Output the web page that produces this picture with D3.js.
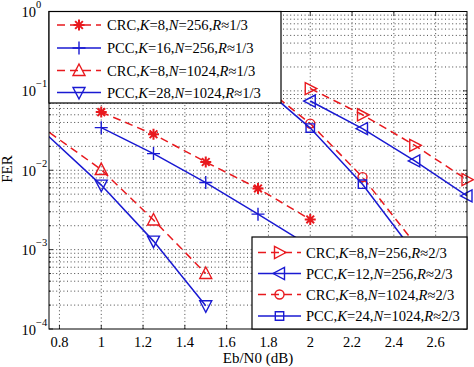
<!DOCTYPE html>
<html>
<head>
<meta charset="utf-8">
<script src="https://cdn.jsdelivr.net/npm/d3@7"></script>
<style>
  body { margin: 0; background: #fff; }
  svg { font-family: "Liberation Serif", "Times New Roman", serif; }
</style>
</head>
<body>
<svg id="chart" width="474" height="367"></svg>
<script>
// values
const snrR13 = [1, 1.25, 1.5, 1.75, 2];
const crc256R13 = [0.054, 0.0284, 0.0127, 0.0059, 0.0024];
const pcc256R13 = [0.0344, 0.0162, 0.0070, 0.0028, 0.0011];
const snrR13N1024 = [0.5, 1, 1.25, 1.5];
const crc1024R13 = [0.089, 0.0102, 0.00236, 0.0005];
const pcc1024R13 = [0.107, 0.0065, 0.00128, 0.000196];
const snrR23 = [2, 2.25, 2.5, 2.75];
const crc256R23 = [0.107, 0.050, 0.0206, 0.0076];
const pcc256R23 = [0.0745, 0.0334, 0.0131, 0.00475];
const snrR23N1024 = [1.75, 2, 2.25, 2.5];
const crc1024R23 = [0.13, 0.0387, 0.0082, 0.0012];
const pcc1024R23 = [0.125, 0.034, 0.00667, 0.0009];

const xTicks = [0.8, 1, 1.2, 1.4, 1.6, 1.8, 2, 2.2, 2.4, 2.6];
const yTicks = [1e-4, 1e-3, 1e-2, 1e-1, 1];
const legendTop = ["CRC,K=8,N=256,R≈1/3", "PCC,K=16,N=256,R≈1/3", "CRC,K=8,N=1024,R≈1/3", "PCC,K=28,N=1024,R≈1/3"];
const legendBottom = ["CRC,K=8,N=256,R≈2/3", "PCC,K=12,N=256,R≈2/3", "CRC,K=8,N=1024,R≈2/3", "PCC,K=24,N=1024,R≈2/3"];

const red = "#e8191e";
const blue = "#1a1ad2";

const pLeft = 49, pRight = 467, pTop = 11.5, pBottom = 329;
const svg = d3.select("#chart");

const x = d3.scaleLinear().domain([0.75, 2.75]).range([pLeft, pRight]);
const y = d3.scaleLog().domain([1e-4, 1]).range([pBottom, pTop]);

svg.append("defs").append("clipPath").attr("id", "plotclip")
    .append("rect").attr("x", pLeft).attr("y", pTop)
    .attr("width", pRight - pLeft).attr("height", pBottom - pTop);

// grid
const grid = svg.append("g").attr("stroke", "#333").attr("stroke-width", 0.9)
    .attr("stroke-dasharray", "1,2.6");
let minorY = [];
for (let e = -4; e < 0; e++) {
    for (let m = 1; m < 10; m++) minorY.push(m * Math.pow(10, e));
}
grid.selectAll(".hg").data(minorY.filter(v => v > 1e-4)).enter().append("line")
    .attr("x1", pLeft).attr("x2", pRight)
    .attr("y1", d => y(d)).attr("y2", d => y(d));
grid.selectAll(".vg").data(xTicks).enter().append("line")
    .attr("y1", pTop).attr("y2", pBottom)
    .attr("x1", d => x(d)).attr("x2", d => x(d));

// tick marks on all four sides, pointing in
const ticks = svg.append("g").attr("stroke", "#000").attr("stroke-width", 0.8);
xTicks.forEach(t => {
    ticks.append("line").attr("x1", x(t)).attr("x2", x(t)).attr("y1", pBottom).attr("y2", pBottom - 4);
    ticks.append("line").attr("x1", x(t)).attr("x2", x(t)).attr("y1", pTop).attr("y2", pTop + 4);
});
minorY.forEach(t => {
    const len = (Math.abs(Math.log10(t) - Math.round(Math.log10(t))) < 1e-9) ? 4 : 2;
    ticks.append("line").attr("x1", pLeft).attr("x2", pLeft + len).attr("y1", y(t)).attr("y2", y(t));
    ticks.append("line").attr("x1", pRight).attr("x2", pRight - len).attr("y1", y(t)).attr("y2", y(t));
});

// tick labels
svg.append("g").selectAll("text").data(xTicks).enter().append("text")
    .attr("x", d => x(d)).attr("y", 346.5).attr("text-anchor", "middle")
    .attr("font-size", 14.5).text(d => d3.format("~g")(d));

const yl = svg.append("g").selectAll("text").data(yTicks).enter().append("text")
    .attr("x", 21.5).attr("y", d => y(d) + 5.5).attr("font-size", 14.5);
yl.append("tspan").text("10");
yl.append("tspan").attr("dy", -9).attr("font-size", 10.5)
    .text(d => d3.format("d")(Math.round(Math.log10(d))).replace("-", "−"));

svg.append("text").attr("x", 258).attr("y", 363).attr("text-anchor", "middle")
    .attr("font-size", 15).text("Eb/N0 (dB)");
svg.append("text").attr("transform", "translate(12,169) rotate(-90)")
    .attr("text-anchor", "middle").attr("font-size", 15).text("FER");

// markers
function marker(g, type, color) {
    const p = g.append("path").attr("fill", "none").attr("stroke", color).attr("stroke-width", 1.4);
    const s = 5.5;
    if (type === "star") {
        p.attr("d", `M${-s},0H${s}M0,${-s}V${s}M${-s*0.7},${-s*0.7}L${s*0.7},${s*0.7}M${-s*0.7},${s*0.7}L${s*0.7},${-s*0.7}`)
         .attr("stroke-width", 2);
    } else if (type === "plus") {
        p.attr("d", `M${-s-1},0H${s+1}M0,${-s-1}V${s+1}`);
    } else if (type === "up") {
        p.attr("d", `M0,${-s-1}L${s+0.5},${s-0.5}H${-s-0.5}Z`);
    } else if (type === "down") {
        p.attr("d", `M0,${s+1}L${s+0.5},${-s+0.5}H${-s-0.5}Z`);
    } else if (type === "right") {
        p.attr("d", `M${s+1},0L${-s+0.5},${s+0.5}V${-s-0.5}Z`);
    } else if (type === "left") {
        p.attr("d", `M${-s-1},0L${s-0.5},${s+0.5}V${-s-0.5}Z`);
    } else if (type === "circle") {
        p.attr("d", d3.symbol(d3.symbolCircle, 64)());
    } else if (type === "square") {
        p.attr("d", `M-4.2,-4.2H4.2V4.2H-4.2Z`);
    }
}

const series = [
    { xs: snrR13, ys: crc256R13, color: red, dash: true, m: "star" },
    { xs: snrR13, ys: pcc256R13, color: blue, dash: false, m: "plus" },
    { xs: snrR13N1024, ys: crc1024R13, color: red, dash: true, m: "up" },
    { xs: snrR13N1024, ys: pcc1024R13, color: blue, dash: false, m: "down" },
    { xs: snrR23, ys: crc256R23, color: red, dash: true, m: "right" },
    { xs: snrR23, ys: pcc256R23, color: blue, dash: false, m: "left" },
    { xs: snrR23N1024, ys: crc1024R23, color: red, dash: true, m: "circle" },
    { xs: snrR23N1024, ys: pcc1024R23, color: blue, dash: false, m: "square" }
];

const line = d3.line().x(d => x(d[0])).y(d => y(d[1]));
series.forEach(s => {
    const pts = s.xs.map((v, i) => [v, s.ys[i]]);
    svg.append("path").datum(pts).attr("clip-path", "url(#plotclip)")
        .attr("fill", "none").attr("stroke", s.color).attr("stroke-width", 1.5)
        .attr("stroke-dasharray", s.dash ? "8,5" : null).attr("d", line);
    pts.filter(p => p[0] >= 0.75 && p[0] <= 2.75).forEach(p => {
        marker(svg.append("g").attr("transform", `translate(${x(p[0])},${y(p[1])})`), s.m, s.color);
    });
});

// axes box
svg.append("rect").attr("x", pLeft).attr("y", pTop).attr("width", pRight - pLeft)
    .attr("height", pBottom - pTop).attr("fill", "none").attr("stroke", "#000").attr("stroke-width", 1);

// legends
function legend(x0, y0, w, h, labels, items, rowY, sx, tx) {
    const g = svg.append("g");
    g.append("rect").attr("x", x0).attr("y", y0).attr("width", w).attr("height", h)
        .attr("fill", "#fff").attr("stroke", "#000").attr("stroke-width", 1.2);
    labels.forEach((lab, i) => {
        const s = items[i];
        const yy = rowY[i];
        g.append("line").attr("x1", sx[0]).attr("x2", sx[1]).attr("y1", yy).attr("y2", yy)
            .attr("stroke", s.color).attr("stroke-width", 1.5)
            .attr("stroke-dasharray", s.dash ? "8,5" : null);
        marker(g.append("g").attr("transform", `translate(${(sx[0] + sx[1]) / 2},${yy})`), s.m, s.color);
        const t = g.append("text").attr("x", tx).attr("y", yy + 5).attr("font-size", 14.6);
        lab.split(/([KNR])(?=[=≈])/).forEach(part => {
            const ts = t.append("tspan").text(part);
            if (part === "K" || part === "N" || part === "R") ts.attr("font-style", "italic");
        });
    });
}

legend(pLeft, pTop, 281 - pLeft, 103 - pTop, legendTop, series.slice(0, 4),
    [25, 48, 70.5, 92.5], [57, 101], 107);
legend(252, 237, pRight - 252, pBottom - 237, legendBottom, series.slice(4),
    [252.5, 273.5, 294.5, 316], [258, 301], 306);
</script>
</body>
</html>
